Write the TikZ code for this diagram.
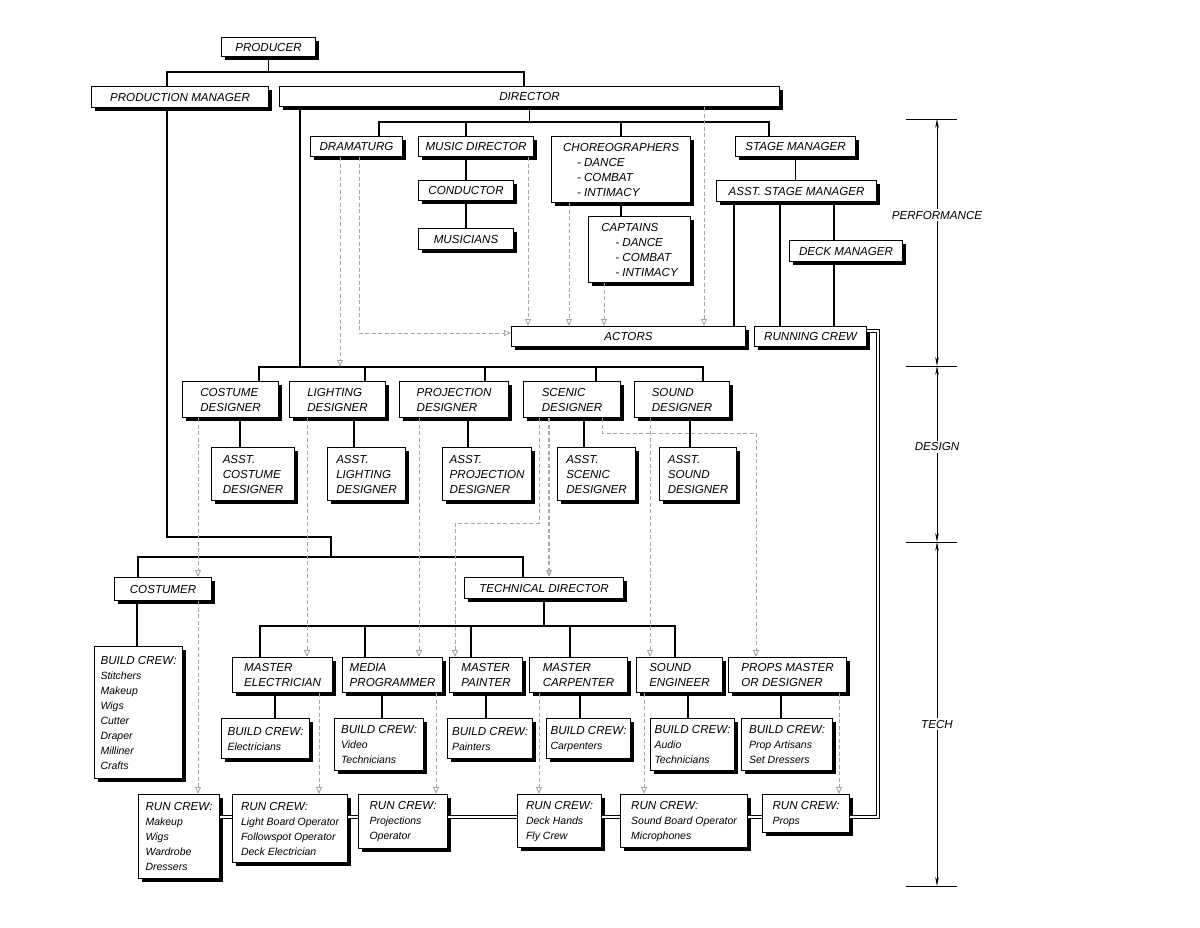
\documentclass[tikz,border=0pt]{standalone}
\usepackage{fontspec}
\setsansfont{Liberation Sans}
\usetikzlibrary{arrows.meta,shadows}
\newcommand{\lbl}{\sffamily\itshape\fontsize{11.6}{15}\selectfont}
\newcommand{\crw}{\sffamily\itshape\fontsize{10.5}{15}\selectfont}
\newcommand{\ind}{\hspace*{14pt}}

\tikzset{
	box/.style={draw, line width=1.1pt, fill=white, anchor=north west, inner sep=2pt, align=left, font=\lbl,
		drop shadow={shadow xshift=3pt, shadow yshift=-3pt, fill=black, opacity=1}},
	sz/.style 2 args={minimum width=#1pt, minimum height=#2pt},
	link/.style={line width=1.7pt},
	feed/.style={draw=gray!70, dash pattern=on 4pt off 2.5pt, line width=0.9pt, -{Triangle[open, length=7pt, width=6pt]}},
	runlink/.style={double, double distance=2.4pt, line width=0.9pt},
	dimline/.style={line width=0.6pt, {Stealth[length=9pt, width=3.5pt]}-{Stealth[length=9pt, width=3.5pt]}},
	dimtick/.style={line width=0.6pt},
	dimtext/.style={fill=white, font=\lbl, inner sep=2pt}
}

\begin{document}
\begin{tikzpicture}[x=1pt, y=-1pt]
	\useasboundingbox (0,0) rectangle (1200,927);

	% performance
	\node[box, sz={94}{19}] (prod) at (221,37) {PRODUCER};
	\node[box, sz={177}{21}] (pm) at (91,86) {PRODUCTION MANAGER};
	\node[box, sz={500}{20}] (dir) at (279,86) {DIRECTOR};
	\node[box, sz={92}{20}] (dram) at (310,136) {DRAMATURG};
	\node[box, sz={115}{20}] (musdir) at (418,136) {MUSIC DIRECTOR};
	\node[box, sz={139}{66}] (chor) at (551,136) {CHOREOGRAPHERS\\\ind- DANCE\\\ind- COMBAT\\\ind- INTIMACY};
	\node[box, sz={120}{20}] (stgmgr) at (735,136) {STAGE MANAGER};
	\node[box, sz={95}{20}] (cond) at (418,180) {CONDUCTOR};
	\node[box, sz={95}{21}] (musicians) at (418,228) {MUSICIANS};
	\node[box, sz={160}{21}] (asm) at (716,180) {ASST. STAGE MANAGER};
	\node[box, sz={102}{66}] (capt) at (588,216) {CAPTAINS\\\ind- DANCE\\\ind- COMBAT\\\ind- INTIMACY};
	\node[box, sz={113}{21}] (deckmgr) at (789,240) {DECK MANAGER};
	\node[box, sz={234}{20}] (actors) at (511,326) {ACTORS};
	\node[box, sz={112}{20}] (runcrew) at (754,326) {RUNNING CREW};

	% design
	\node[box, sz={96}{36}] (costdes) at (182,381) {COSTUME\\DESIGNER};
	\node[box, sz={96}{36}] (lightdes) at (289,381) {LIGHTING\\DESIGNER};
	\node[box, sz={109}{36}] (projdes) at (399,381) {PROJECTION\\DESIGNER};
	\node[box, sz={97}{36}] (scendes) at (523,381) {SCENIC\\DESIGNER};
	\node[box, sz={95}{36}] (sounddes) at (634,381) {SOUND\\DESIGNER};
	\node[box, sz={83}{53}] (asstcost) at (211,447) {ASST.\\COSTUME\\DESIGNER};
	\node[box, sz={78}{53}] (asstlight) at (327,447) {ASST.\\LIGHTING\\DESIGNER};
	\node[box, sz={89}{53}] (asstproj) at (442,447) {ASST.\\PROJECTION\\DESIGNER};
	\node[box, sz={78}{53}] (asstscen) at (557,447) {ASST.\\SCENIC\\DESIGNER};
	\node[box, sz={77}{53}] (asstsound) at (659,447) {ASST.\\SOUND\\DESIGNER};

	% tech
	\node[box, sz={97}{23}] (costumer) at (114,577) {COSTUMER};
	\node[box, sz={159}{21}] (techdir) at (464,577) {TECHNICAL DIRECTOR};
	\node[box, sz={100}{35}] (mastelec) at (232,657) {MASTER\\ELECTRICIAN};
	\node[box, sz={100}{35}] (mediaprog) at (342,657) {MEDIA\\PROGRAMMER};
	\node[box, sz={73}{35}] (mastpaint) at (449,657) {MASTER\\PAINTER};
	\node[box, sz={98}{35}] (mastcarp) at (529,657) {MASTER\\CARPENTER};
	\node[box, sz={86}{35}] (soundeng) at (636,657) {SOUND\\ENGINEER};
	\node[box, sz={118}{35}] (propsmaster) at (728,657) {PROPS MASTER\\OR DESIGNER};

	\node[box, font=\crw, sz={88}{132}] (costbuild) at (94,646) {{\lbl BUILD CREW:}\\Stitchers\\Makeup\\Wigs\\Cutter\\Draper\\Milliner\\Crafts};
	\node[box, font=\crw, sz={88}{40}] (elecbuild) at (221,718) {{\lbl BUILD CREW:}\\Electricians};
	\node[box, font=\crw, sz={89}{52}] (videobuild) at (334,718) {{\lbl BUILD CREW:}\\Video\\Technicians};
	\node[box, font=\crw, sz={85}{40}] (paintbuild) at (447,718) {{\lbl BUILD CREW:}\\Painters};
	\node[box, font=\crw, sz={84}{40}] (carpbuild) at (546,718) {{\lbl BUILD CREW:}\\Carpenters};
	\node[box, font=\crw, sz={84}{52}] (audiobuild) at (650,718) {{\lbl BUILD CREW:}\\Audio\\Technicians};
	\node[box, font=\crw, sz={91}{52}] (propbuild) at (741,718) {{\lbl BUILD CREW:}\\Prop Artisans\\Set Dressers};

	\node[box, font=\crw, sz={81}{84}] (costrun) at (138,794) {{\lbl RUN CREW:}\\Makeup\\Wigs\\Wardrobe\\Dressers};
	\node[box, font=\crw, sz={115}{68}] (lightrun) at (232,794) {{\lbl RUN CREW:}\\Light Board Operator\\Followspot Operator\\Deck Electrician};
	\node[box, font=\crw, sz={89}{54}] (projrun) at (358,794) {{\lbl RUN CREW:}\\Projections\\Operator};
	\node[box, font=\crw, sz={84}{53}] (deckrun) at (517,794) {{\lbl RUN CREW:}\\Deck Hands\\Fly Crew};
	\node[box, font=\crw, sz={127}{53}] (soundrun) at (620,794) {{\lbl RUN CREW:}\\Sound Board Operator\\Microphones};
	\node[box, font=\crw, sz={87}{38}] (propsrun) at (762,794) {{\lbl RUN CREW:}\\Props};

	% junctions
	\coordinate (pb1) at (167,72);
	\coordinate (pb2) at (524,72);
	\coordinate (fb1) at (379,122);
	\coordinate (fb2) at (769,122);
	\coordinate (db1) at (259,367);
	\coordinate (db5) at (703,367);
	\coordinate (pmturn) at (331,537);
	\coordinate (tb1) at (138,557);
	\coordinate (tb2) at (523,557);
	\coordinate (ub1) at (260,626);
	\coordinate (ub5) at (675,626);
	\coordinate (rc) at (878,331);
	\coordinate (rline) at (0,817);
	\coordinate (dtA) at (359,333);
	\coordinate (sc1) at (539,523);
	\coordinate (sc3) at (602,433);
	\foreach \x in {137,198,240,275,300,307,319,340,354,365,382,419,436,455,468,471,485,486,528,539,549,569,570,580,584,596,604,644,650,688,690,704,734,756,780,781,834,839}
		\coordinate (m\x) at (\x,0);

	% solid lines
	\draw[link] (prod.south) -- (prod.south |- pb1);
	\draw[link] (pm.north -| pb1) |- (pb2) -- (dir.north -| pb2);
	\draw[link] (dir.south) -- (dir.south |- fb1);
	\draw[link] (dram.north -| fb1) |- (fb2) -- (stgmgr.north -| fb2);
	\draw[link] (musdir.north -| cond) -- (cond |- fb1);
	\draw[link] (chor.north) -- (chor.north |- fb1);
	\draw[link] (musdir.south -| cond) -- (cond.north);
	\draw[link] (cond.south) -- (musicians.north);
	\draw[link] (chor.south) -- (chor.south |- capt.north);
	\draw[link] (stgmgr.south) -- (stgmgr.south |- asm.north);
	\draw[link] (asm.south -| m734) -- (actors.north -| m734);
	\draw[link] (asm.south -| m780) -- (runcrew.north -| m780);
	\draw[link] (asm.south -| m834) -- (deckmgr.north -| m834);
	\draw[link] (deckmgr.south -| m834) -- (runcrew.north -| m834);

	\draw[link] (dir.south -| m300) -- (m300 |- db1);
	\draw[link] (costdes.north -| db1) |- (db5) -- (sounddes.north -| db5);
	\draw[link] (lightdes.north -| m365) -- (m365 |- db1);
	\draw[link] (projdes.north -| m485) -- (m485 |- db1);
	\draw[link] (scendes.north -| m596) -- (m596 |- db1);
	\draw[link] (costdes.south -| m240) -- (asstcost.north -| m240);
	\draw[link] (lightdes.south -| m354) -- (asstlight.north -| m354);
	\draw[link] (projdes.south -| m468) -- (asstproj.north -| m468);
	\draw[link] (scendes.south -| m584) -- (asstscen.north -| m584);
	\draw[link] (sounddes.south -| m690) -- (asstsound.north -| m690);

	\draw[link] (pm.south -| pb1) |- (pmturn) -- (pmturn |- tb1);
	\draw[link] (costumer.north -| tb1) |- (tb2) -- (techdir.north -| tb2);
	\draw[link] (techdir.south) -- (techdir.south |- ub1);
	\draw[link] (mastelec.north -| ub1) |- (ub5) -- (soundeng.north -| ub5);
	\draw[link] (mediaprog.north -| m365) -- (m365 |- ub1);
	\draw[link] (mastpaint.north -| m471) -- (m471 |- ub1);
	\draw[link] (mastcarp.north -| m570) -- (m570 |- ub1);
	\draw[link] (costumer.south -| m137) -- (costbuild.north -| m137);
	\draw[link] (mastelec.south -| m275) -- (elecbuild.north -| m275);
	\draw[link] (mediaprog.south -| m382) -- (videobuild.north -| m382);
	\draw[link] (mastpaint.south -| m486) -- (paintbuild.north -| m486);
	\draw[link] (mastcarp.south -| m580) -- (carpbuild.north -| m580);
	\draw[link] (soundeng.south -| m688) -- (audiobuild.north -| m688);
	\draw[link] (propsmaster.south -| m781) -- (propbuild.north -| m781);

	% run crews
	\draw[runlink] (costrun.east |- rline) -- (lightrun.west |- rline);
	\draw[runlink] (lightrun.east |- rline) -- (projrun.west |- rline);
	\draw[runlink] (projrun.east |- rline) -- (deckrun.west |- rline);
	\draw[runlink] (deckrun.east |- rline) -- (soundrun.west |- rline);
	\draw[runlink] (soundrun.east |- rline) -- (propsrun.west |- rline);
	\draw[runlink] (runcrew.east |- rc) -| (rline -| rc) -- (propsrun.east |- rline);

	% dashed
	\draw[feed] (dram.south -| m340) -- (m340 |- db1);
	\draw[feed] (dram.south -| dtA) |- (actors.west |- dtA);
	\draw[feed] (musdir.south -| m528) -- (actors.north -| m528);
	\draw[feed] (chor.south -| m569) -- (actors.north -| m569);
	\draw[feed] (capt.south -| m604) -- (actors.north -| m604);
	\draw[feed] (dir.south -| m704) -- (actors.north -| m704);
	\draw[feed] (costdes.south -| m198) -- (costumer.north -| m198);
	\draw[feed] (lightdes.south -| m307) -- (mastelec.north -| m307);
	\draw[feed] (projdes.south -| m419) -- (mediaprog.north -| m419);
	\draw[feed] (scendes.south -| sc1) -- (sc1) -| (mastpaint.north -| m455);
	\draw[feed, line width=1.3pt] (scendes.south -| m549) -- (techdir.north -| m549);
	\draw[feed] (scendes.south -| sc3) -- (sc3) -| (propsmaster.north -| m756);
	\draw[feed] (sounddes.south -| m650) -- (soundeng.north -| m650);
	\draw[feed] (costumer.south -| m198) -- (costrun.north -| m198);
	\draw[feed] (mastelec.south -| m319) -- (lightrun.north -| m319);
	\draw[feed] (mediaprog.south -| m436) -- (projrun.north -| m436);
	\draw[feed] (mastcarp.south -| m539) -- (deckrun.north -| m539);
	\draw[feed] (soundeng.south -| m644) -- (soundrun.north -| m644);
	\draw[feed] (propsmaster.south -| m839) -- (propsrun.north -| m839);

	% extents
	\coordinate (d1) at (937,119);
	\coordinate (d2) at (937,366);
	\coordinate (d3) at (937,542);
	\coordinate (d4) at (937,886);
	\draw[dimline] (d1) -- node[dimtext, pos=0.39] {PERFORMANCE} (d2);
	\draw[dimline] (d2) -- node[dimtext, pos=0.46] {DESIGN} (d3);
	\draw[dimline] (d3) -- node[dimtext, pos=0.53] {TECH} (d4);
	\draw[dimtick] ([xshift=-31pt]d1) -- ([xshift=20pt]d1);
	\draw[dimtick] ([xshift=-31pt]d2) -- ([xshift=20pt]d2);
	\draw[dimtick] ([xshift=-31pt]d3) -- ([xshift=20pt]d3);
	\draw[dimtick] ([xshift=-31pt]d4) -- ([xshift=20pt]d4);
\end{tikzpicture}
\end{document}
